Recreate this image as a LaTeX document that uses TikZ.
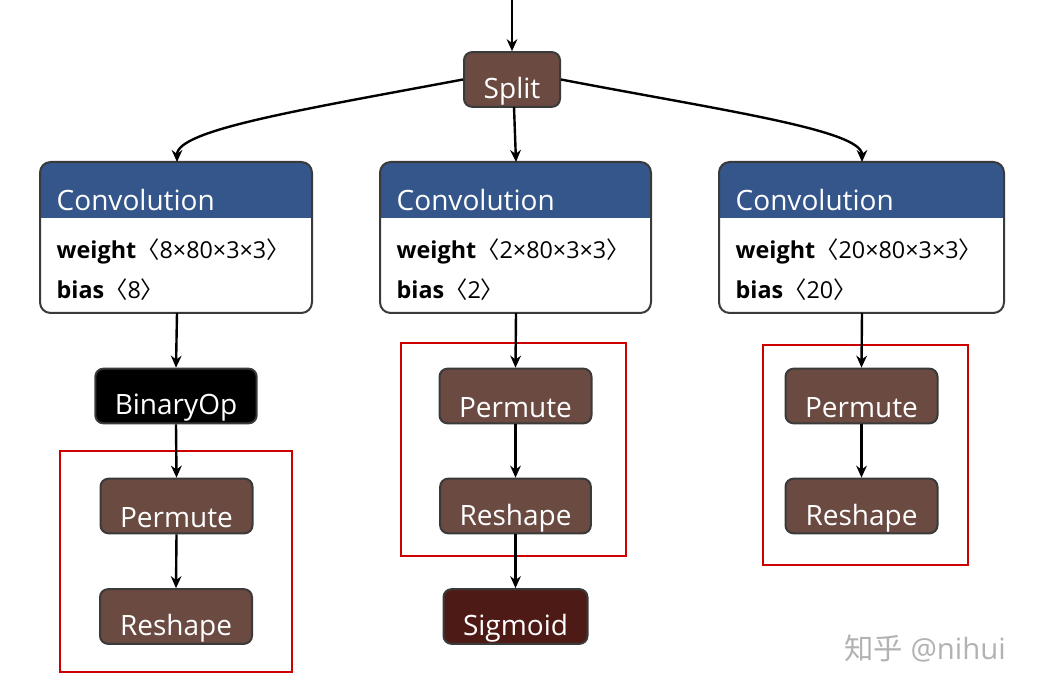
\documentclass[tikz,border=0pt]{standalone}
\usepackage{fontspec}
\setmainfont{Open Sans}
\newfontfamily\cjk{Noto Sans CJK SC}
\usetikzlibrary{arrows.meta}
\definecolor{brn}{HTML}{6B4A42}
\definecolor{convb}{HTML}{34568B}
\definecolor{sig}{HTML}{4E1A16}
\definecolor{bord}{HTML}{3A3A3A}
\begin{document}
\begin{tikzpicture}[x=0.75pt,y=-0.75pt,
  op/.style={draw=bord,line width=1.5pt,rounded corners=6pt,fill=brn,minimum height=41pt,inner sep=0pt},
  lbl/.style={text=white,font=\fontsize{21}{24}\selectfont,yshift=-9pt},
  red/.style={draw=red!80!black,line width=1pt},
  arr/.style={-{Stealth[length=9pt,width=8pt]},line width=1.8pt}]
\useasboundingbox (0,0) rectangle (1039,691);
% red groups
\draw[red] (60,451) rectangle (292,672);
\draw[red] (401,343) rectangle (626,556);
\draw[red] (763,345) rectangle (968,565);
\newcommand{\br}[1]{{\cjk 〈}#1{\cjk 〉}}
\newcommand{\conv}[5]{%
  \fill[white] (#2,162) rectangle (#3,313);
  \begin{scope}
  \clip[rounded corners=8pt] (#2,162) rectangle (#3,313);
  \fill[convb] (#2,162) rectangle (#3,218);
  \end{scope}
  \draw[bord,line width=1.5pt,rounded corners=8pt] (#2,162) rectangle (#3,313);
  \node[anchor=base west,text=white,font=\fontsize{21}{24}\selectfont] at (#2+12,211) {Convolution};
  \node[anchor=base west,font=\fontsize{17.5}{20}\selectfont] at (#2+12,259) {\textbf{weight}\br{#4}};
  \node[anchor=base west,font=\fontsize{17.5}{20}\selectfont] at (#2+12,299) {\textbf{bias}\br{#5}};
}
\conv{c1}{40}{312}{8×80×3×3}{8}
\conv{c2}{380}{651}{2×80×3×3}{2}
\conv{c3}{719}{1004}{20×80×3×3}{20}
\coordinate (c1b) at (177,313);
\coordinate (c2b) at (516,313);
\coordinate (c3b) at (862,313);
\node[op,minimum width=72pt] (split) at (512,79.5) {};
\node[lbl] at (split) {Split};
\node[op,fill=black,minimum width=121pt] (bin) at (176,396) {};
\node[lbl] at (bin) {BinaryOp};
\node[op,minimum width=114pt] (p1) at (176.5,506) {};
\node[lbl] at (p1) {Permute};
\node[op,minimum width=114pt] (r1) at (176,616.5) {};
\node[lbl] at (r1) {Reshape};
\node[op,minimum width=114pt] (p2) at (515.5,396) {};
\node[lbl] at (p2) {Permute};
\node[op,minimum width=113pt] (r2) at (515.5,506) {};
\node[lbl] at (r2) {Reshape};
\node[op,fill=sig,minimum width=108pt] (sg) at (515.5,616.5) {};
\node[lbl] at (sg) {Sigmoid};
\node[op,minimum width=114pt] (p3) at (861.5,396) {};
\node[lbl] at (p3) {Permute};
\node[op,minimum width=114pt] (r3) at (861.5,506) {};
\node[lbl] at (r3) {Reshape};
% arrows
\coordinate (top) at (512,0);
\draw[arr] (top) -- (split.north);
\draw[arr] (split.west) .. controls (300,110) and (177,130) .. (177,162);
\draw[arr] (split.east) .. controls (720,110) and (862,130) .. (862,162);
\draw[arr] (514,107) -- (516,162);
\draw[arr] (c1b) -- (bin.north);
\draw[arr] (bin.south) -- (p1.north);
\draw[arr] (p1.south) -- (r1.north);
\draw[arr] (c2b) -- (p2.north);
\draw[arr] (p2.south) -- (r2.north);
\draw[arr] (r2.south) -- (sg.north);
\draw[arr] (c3b) -- (p3.north);
\draw[arr] (p3.south) -- (r3.north);
\node[text=gray!60,font=\fontsize{22}{24}\selectfont] (wm) at (925,648) {{\cjk 知乎} @nihui};
\end{tikzpicture}
\end{document}
